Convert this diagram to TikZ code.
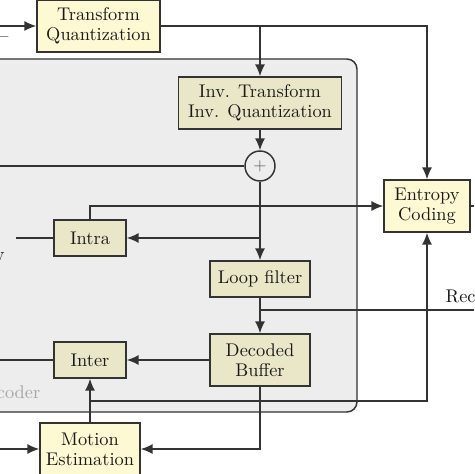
\documentclass[tikz,border=0pt]{standalone}
\usepackage{tikz}
\usetikzlibrary{arrows.meta}
\definecolor{boxyellow}{HTML}{FDF9D3}
\definecolor{boxbeige}{HTML}{EAE7C8}
\definecolor{areagray}{HTML}{EDEDEE}
\definecolor{linegray}{HTML}{333333}
\newcommand{\px}{0.545pt}
\tikzset{
  my line style/.style={
    >={Latex[length=6.5pt, width=5.5pt]}, % arrow tip style
    line width=0.8pt,                     % default line thickness
    color=linegray,
    text=black!90,
  },
  block/.style 2 args={
    draw, align=center, inner sep=0pt,
    minimum width=#1*\px, minimum height=#2*\px,
    font=\fontsize{10}{11}\selectfont
  },
  outer block/.style 2 args={block={#1}{#2}, fill=boxyellow},
  inner block/.style 2 args={block={#1}{#2}, fill=boxbeige},
}

\begin{document}
\begin{tikzpicture}[x=\px, y=-\px, my line style]
    % Frame
    \useasboundingbox (0,0) rectangle (474,474);

    % Decoder area
    \draw[fill=areagray, rounded corners=5.5pt] (-20,59) rectangle (357,412);
    \node[anchor=base east, inner sep=0, text=black!35] (declabel) at (41,398) {coder};

    % Blocks
    \node[outer block={123}{52}] (tq) at (98.5,26) {Transform\\Quantization};
    \node[inner block={163}{52}] (itq) at (260,103) {Inv. Transform\\Inv. Quantization};
    \node[draw, circle, fill=areagray, minimum size=30*\px, inner sep=0, font=\small, text=black!60] (sum) at (260,166) {$+$};
    \node[inner block={72}{36}] (intra) at (90,238) {Intra};
    \node[inner block={100}{36}] (loop) at (260,279) {Loop filter};
    \node[outer block={86}{52}] (ec) at (427,206) {Entropy\\Coding};
    \node[inner block={72}{36}] (inter) at (90,360) {Inter};
    \node[inner block={100}{52}] (dbuf) at (260,360) {Decoded\\Buffer};
    \node[outer block={100}{52}] (me) at (90,449) {Motion\\Estimation};

    % Loose ends
    \coordinate (tqin) at (0,26);
    \coordinate (sumin) at (0,166);
    \coordinate (intraout) at (16,238);
    \coordinate (interout) at (0,360);
    \coordinate (mein) at (0,449);
    \coordinate (recout) at (474,310);
    \coordinate (ecout) at (474,206);
    \coordinate (mvturn) at (427,401);

    % Labels cut by the frame
    \node[anchor=east, inner sep=0, text=black!60] (minuslabel) at (11,37) {$-$};
    \node[anchor=base east, inner sep=0] (wlabel) at (5,260) {w};
    \node[anchor=base west, inner sep=0] (reclabel) at (445,302) {Rec};

    % Forward path
    \draw[->] (tqin) -- (tq);
    \draw[->] (tq.east) -| (ec.north);
    \draw[->] (tq.east -| itq) -- (itq.north);
    \draw[->] (itq) -- (sum);
    \draw (sumin) -- (sum);
    \draw[->] (sum) -- (loop);
    \draw[->] (sum |- intra) -- (intra);
    \draw[->] (intra.north) |- (ec.west);
    \draw (intra) -- (intraout);
    \draw (ec) -- (ecout);

    % Reference path
    \draw[->] (loop) -- (dbuf);
    \draw (loop.south |- recout) -- (recout);
    \draw[->] (dbuf) -- (inter);
    \draw (inter) -- (interout);
    \draw[->] (dbuf.south) |- (me.east);
    \draw[->] (mein) -- (me);
    \draw[->] (me) -- (inter);
    \draw[->] (me |- mvturn) -| (ec.south);
\end{tikzpicture}
\end{document}
